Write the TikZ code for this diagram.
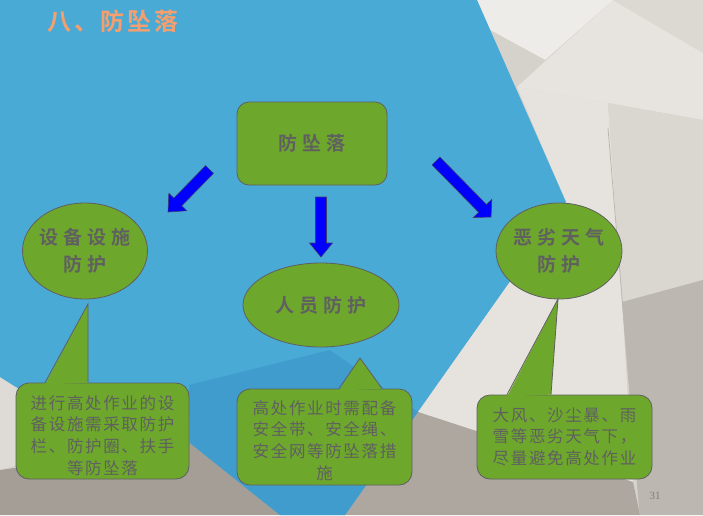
\documentclass[tikz,border=0pt]{standalone}
\usepackage{fontspec}
\setmainfont{Liberation Serif}
\newfontfamily\cjkbody[LetterSpace=10]{Noto Sans CJK SC}
\newfontfamily\cjkhead[LetterSpace=26]{Noto Sans CJK SC Bold}
\newfontfamily\cjktitle[LetterSpace=12]{Noto Sans CJK SC Bold}
\usetikzlibrary{calc,shapes.geometric}
\definecolor{bgblue}{RGB}{74,170,214}
\definecolor{bgblueD}{RGB}{64,156,204}
\definecolor{leafgreen}{RGB}{109,168,44}
\definecolor{edgegray}{RGB}{95,95,95}
\definecolor{txtgray}{RGB}{96,96,96}
\definecolor{titleorange}{RGB}{245,158,110}
\definecolor{arrowedge}{RGB}{60,60,110}
\definecolor{paperBase}{RGB}{214,210,204}
\definecolor{paperW}{RGB}{238,236,233}
\definecolor{paperC}{RGB}{213,209,203}
\definecolor{paperF}{RGB}{231,228,224}
\definecolor{paperD}{RGB}{220,216,210}
\definecolor{paperL}{RGB}{230,227,222}
\definecolor{paperR}{RGB}{218,214,208}
\definecolor{paperG}{RGB}{188,183,176}
\definecolor{paperM}{RGB}{173,167,159}
\definecolor{paperM2}{RGB}{164,158,150}
\definecolor{paperWedge}{RGB}{222,219,214}
\newcommand\blkarrow[5]{%
  \coordinate (#1-h) at ($(#2)!#5!(#1)$);
  \filldraw[blockarrow] ($(#1)!#3!90:(#2)$) -- ($(#1-h)!#3!90:(#2)$) -- ($(#1-h)!#4!90:(#2)$) -- (#2) -- ($(#1-h)!#4!-90:(#2)$) -- ($(#1-h)!#3!-90:(#2)$) -- ($(#1)!#3!-90:(#2)$) -- cycle;}
\tikzset{
  blockarrow/.style={fill=blue, draw=arrowedge, line width=0.6pt, line join=miter},
  headbox/.style={draw=edgegray, fill=leafgreen, line width=0.8pt, rounded corners=12pt,
    minimum width=150pt, minimum height=83pt, inner sep=0pt,
    font=\cjkhead\fontsize{19}{27}\selectfont, text=txtgray},
  oval/.style={ellipse, draw=edgegray, fill=leafgreen, line width=0.8pt, inner sep=0pt},
  ovaltext/.style={inner sep=0pt, align=center, font=\cjkhead\fontsize{19}{27}\selectfont, text=txtgray},
  callbox/.style={draw=edgegray, fill=leafgreen, line width=0.8pt, rounded corners=13pt, inner sep=0pt},
  calltext/.style={inner sep=0pt, align=center, font=\cjkbody\fontsize{16.5}{21.7}\selectfont, text=txtgray},
  pointerfill/.style={fill=leafgreen},
  pointeredge/.style={draw=edgegray, line width=0.8pt, line join=miter},
}
\begin{document}
\begin{tikzpicture}[x=1pt,y=-1pt]
\useasboundingbox (0,0) rectangle (703,515);
% ---------- background ----------
\begin{scope}
\clip (0,0) rectangle (703,515);
\fill[paperBase] (0,0) rectangle (703,515);
\fill[paperW] (477,0) -- (613,0) -- (545,60) -- (490,30) -- cycle;
\fill[paperC] (490,30) -- (545,60) -- (517,87) -- cycle;
\fill[paperF] (613,0) -- (703,53) -- (703,120) -- (517,87) -- cycle;
\fill[paperD] (613,0) -- (703,0) -- (703,53) -- cycle;
\fill[paperL] (517,87) -- (608,103) -- (622,302) -- (633,482) -- (418,412) -- (566,202) -- cycle;
\fill[paperR] (608,103) -- (703,120) -- (703,280) -- (622,302) -- cycle;
\fill[paperG] (622,302) -- (703,280) -- (703,515) -- (640,515) -- cycle;
\fill[paperM] (418,412) -- (633,482) -- (640,515) -- (345,515) -- cycle;
\draw[paperG, line width=0.8pt] (608,128) -- (640,515);
\fill[paperWedge] (0,377) -- (100,440) -- (0,470) -- cycle;
\fill[paperM2] (0,470) -- (190,443) -- (280,515) -- (0,515) -- cycle;
\fill[bgblue] (0,0) -- (477,0) -- (566,202) -- (345,515) -- (280,515) -- (190,443) -- (100,440) -- (0,377) -- cycle;
\fill[bgblueD] (189,385) -- (330,350) -- (418,412) -- (345,515) -- (280,515) -- (190,443) -- cycle;
\end{scope}
% ---------- title ----------
\node[anchor=west, inner sep=0pt, text=titleorange, font=\cjktitle\fontsize{24}{28}\selectfont] (title) at (47,21.5) {八、防坠落};
% ---------- main nodes ----------
\node[headbox] (top) at (312,143.5) {防坠落};
\node[oval, minimum width=125pt, minimum height=96pt] (eL) at (85,251) {};
\node[ovaltext] (eLt) at (eL.center) {设备设施\\防护};
\node[oval, minimum width=156pt, minimum height=84pt] (eM) at (321,305) {};
\node[ovaltext] (eMt) at (eM.center) {人员防护};
\node[oval, minimum width=126pt, minimum height=96pt] (eR) at (559,251) {};
\node[ovaltext] (eRt) at (eR.center) {恶劣天气\\防护};
% ---------- block arrows ----------
\coordinate (aLt) at (209.5,169.5);
\coordinate (aLp) at (168,212);
\blkarrow{aLt}{aLp}{5.5pt}{12.5pt}{14pt}
\coordinate (aMt) at (321,197);
\coordinate (aMp) at (321,257);
\blkarrow{aMt}{aMp}{5.5pt}{11.5pt}{14pt}
\coordinate (aRt) at (436,161);
\coordinate (aRp) at (491,217);
\blkarrow{aRt}{aRp}{5.5pt}{13pt}{12pt}
% ---------- callouts ----------
\node[callbox, minimum width=173pt, minimum height=96pt] (bL) at (102.5,431) {};
\coordinate (pL) at (88,304);
\fill[pointerfill] (45,0 |- bL.north) ++(0,2) -- (pL) -- (88,0 |- bL.north) ++(0,2) -- cycle;
\draw[pointeredge] (45,0 |- bL.north) -- (pL) -- (88,0 |- bL.north);
\node[calltext] (bLt) at (102.5,435.5) {进行高处作业的设\\备设施需采取防护\\栏、防护圈、扶手\\等防坠落};

\node[callbox, minimum width=175pt, minimum height=96pt] (bM) at (324.5,437) {};
\coordinate (pM) at (360,358);
\fill[pointerfill] (339,0 |- bM.north) ++(0,2) -- (pM) -- (382,0 |- bM.north) ++(0,2) -- cycle;
\draw[pointeredge] (339,0 |- bM.north) -- (pM) -- (382,0 |- bM.north);
\node[calltext] (bMt) at (324.5,440.5) {高处作业时需配备\\安全带、安全绳、\\安全网等防坠落措\\施};

\node[callbox, minimum width=175pt, minimum height=84pt] (bR) at (564.5,437) {};
\coordinate (pR) at (558,299);
\fill[pointerfill] (507,0 |- bR.north) ++(0,2) -- (pR) -- (551,0 |- bR.north) ++(0,2) -- cycle;
\draw[pointeredge] (507,0 |- bR.north) -- (pR) -- (551,0 |- bR.north);
\node[calltext] (bRt) at (564.5,436.7) {大风、沙尘暴、雨\\雪等恶劣天气下，\\尽量避免高处作业};
% ---------- page number ----------
\node[inner sep=0pt, text=gray, font=\fontsize{11}{13}\selectfont] (pg) at (655,496) {31};
\end{tikzpicture}
\end{document}
